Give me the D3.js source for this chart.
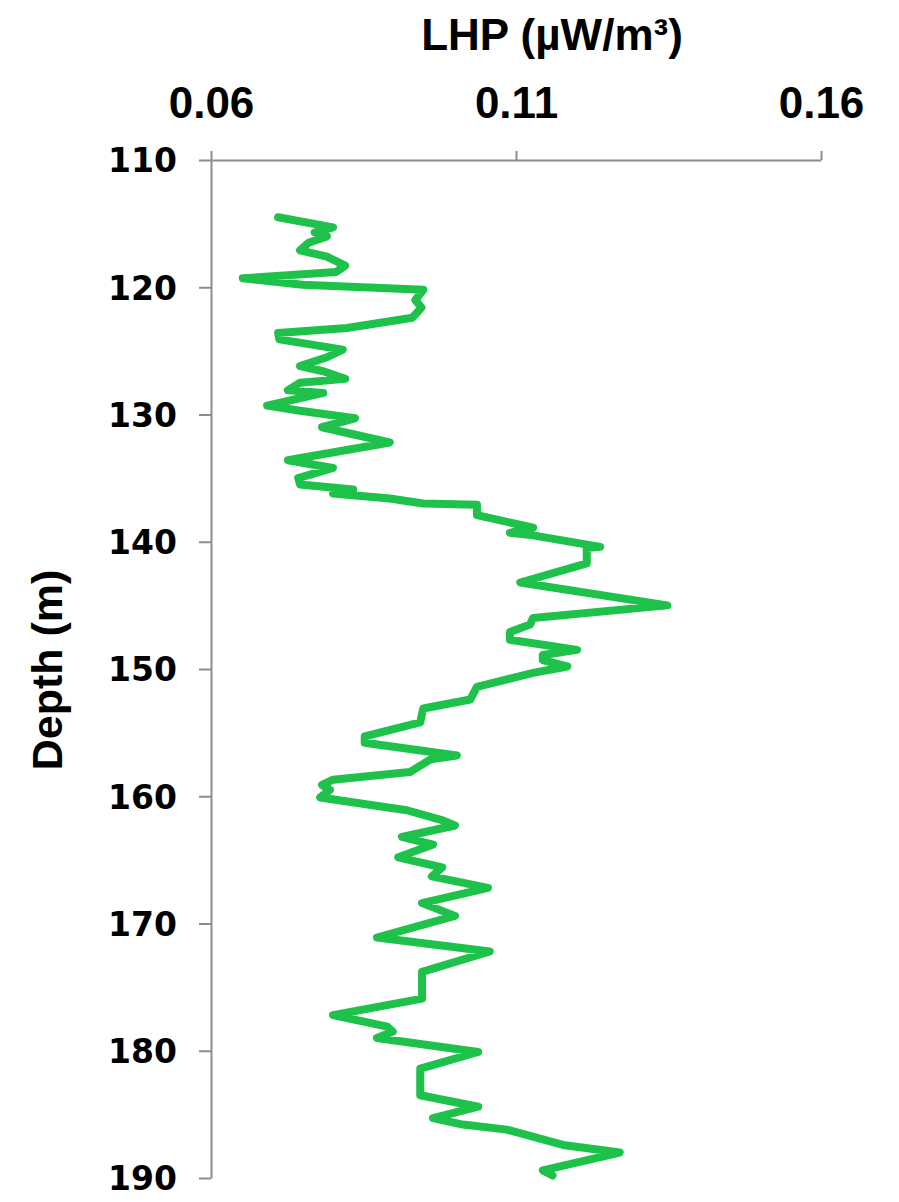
<!DOCTYPE html>
<head>
<meta charset="utf-8">
<style>
    body { margin: 0; background: #fff; }
    .tick text { fill: #000; }
</style>
<script src="https://d3js.org/d3.v7.min.js"></script>
</head>
<body>
<script>
// depth log
var depths = [114.5, 115.3, 115.7, 116.0, 116.5, 117.1, 117.6, 118.3, 118.8, 119.3,
    119.8, 120.2, 121.0, 121.6, 122.4, 123.2, 123.6, 124.1, 124.9, 125.5,
    126.2, 126.6, 127.2, 127.5, 128.1, 128.3, 129.3, 129.7, 130.3, 131.0,
    132.2, 133.6, 134.2, 135.0, 135.5, 135.9, 136.2, 136.6, 137.0, 137.1,
    137.9, 138.9, 139.3, 139.5, 140.4, 140.5, 141.7, 143.2, 145.0, 146.0,
    146.5, 147.1, 147.7, 148.5, 148.9, 149.3, 149.8, 150.3, 151.4, 152.4,
    153.1, 154.2, 155.3, 155.8, 156.8, 157.1, 158.1, 158.7, 159.1, 159.5,
    160.1, 161.1, 161.9, 162.3, 163.2, 163.8, 164.8, 165.6, 166.3, 167.2,
    168.4, 169.4, 171.1, 172.2, 173.8, 175.9, 177.2, 178.1, 178.5, 179.0,
    180.1, 181.4, 183.5, 184.4, 185.3, 185.8, 186.2, 187.4, 188.0, 189.4,
    189.8];
var lhp = [0.0710, 0.0800, 0.0770, 0.0790, 0.0760, 0.0746, 0.0790, 0.0820, 0.0805, 0.0652,
    0.0750, 0.0948, 0.0935, 0.0945, 0.0930, 0.0823, 0.0710, 0.0712, 0.0816, 0.0790,
    0.0746, 0.0784, 0.0820, 0.0746, 0.0726, 0.0784, 0.0692, 0.0746, 0.0836, 0.0782,
    0.0893, 0.0726, 0.0800, 0.0743, 0.0746, 0.0833, 0.0800, 0.0893, 0.0948, 0.1036,
    0.1036, 0.1128, 0.1090, 0.1128, 0.1238, 0.1216, 0.1216, 0.1107, 0.1348, 0.1128,
    0.1123, 0.1090, 0.1090, 0.1200, 0.1144, 0.1144, 0.1184, 0.1128, 0.1036, 0.1025,
    0.0948, 0.0943, 0.0852, 0.0852, 0.1003, 0.0960, 0.0926, 0.0800, 0.0782, 0.0795,
    0.0779, 0.0921, 0.0980, 0.1000, 0.0913, 0.0964, 0.0907, 0.0979, 0.0962, 0.1054,
    0.0946, 0.1000, 0.0872, 0.1057, 0.0946, 0.0946, 0.0800, 0.0889, 0.0898, 0.0872,
    0.1038, 0.0943, 0.0943, 0.1038, 0.0964, 0.1013, 0.1085, 0.1177, 0.1270, 0.1144,
    0.1160];
var xTicks = [0.06, 0.11, 0.16];
var yTicks = [110, 120, 130, 140, 150, 160, 170, 180, 190];

var width = 899, height = 1202;
var svg = d3.select("body").append("svg")
    .attr("width", width)
    .attr("height", height);

var x = d3.scaleLinear().domain([0.06, 0.16]).range([211, 821]);
var y = d3.scaleLinear().domain([110, 190]).range([160, 1178]);

// top axis
var xAxis = svg.append("g")
    .attr("transform", "translate(0," + y(110) + ")")
    .call(d3.axisTop(x).tickValues(xTicks).tickSize(9).tickSizeOuter(0)
        .tickFormat(d3.format(".2f")));
xAxis.selectAll("line, path").attr("stroke", "#8c8c8c").attr("stroke-width", 2);
xAxis.selectAll("text")
    .attr("y", -42)
    .style("font-family", "'Liberation Sans', Arial, sans-serif")
    .style("font-weight", "bold")
    .style("font-size", "44px");

// left axis
var yAxis = svg.append("g")
    .attr("transform", "translate(" + x(0.06) + ",0)")
    .call(d3.axisLeft(y).tickValues(yTicks).tickSize(12).tickSizeOuter(0));
yAxis.selectAll("line, path").attr("stroke", "#8c8c8c").attr("stroke-width", 2);
yAxis.selectAll("text")
    .attr("x", -34)
    .attr("dy", "0.36em")
    .style("font-family", "'DejaVu Sans', Verdana, sans-serif")
    .style("font-weight", "bold")
    .style("font-size", "33px");

// titles
svg.append("text")
    .attr("x", 552)
    .attr("y", 50)
    .attr("text-anchor", "middle")
    .style("font-family", "'Liberation Sans', Arial, sans-serif")
    .style("font-weight", "bold")
    .style("font-size", "44px")
    .text("LHP (\u00b5W/m\u00b3)");

svg.append("text")
    .attr("transform", "translate(62,670) rotate(-90)")
    .attr("text-anchor", "middle")
    .style("font-family", "'Liberation Sans', Arial, sans-serif")
    .style("font-weight", "bold")
    .style("font-size", "43px")
    .text("Depth (m)");

// the log curve
var line = d3.line()
    .x(function(d, i) { return x(lhp[i]); })
    .y(function(d) { return y(d); });

svg.append("path")
    .datum(depths)
    .attr("fill", "none")
    .attr("stroke", "#1ec24a")
    .attr("stroke-width", 8)
    .attr("stroke-linejoin", "round")
    .attr("stroke-linecap", "round")
    .attr("d", line);
</script>
</body>
